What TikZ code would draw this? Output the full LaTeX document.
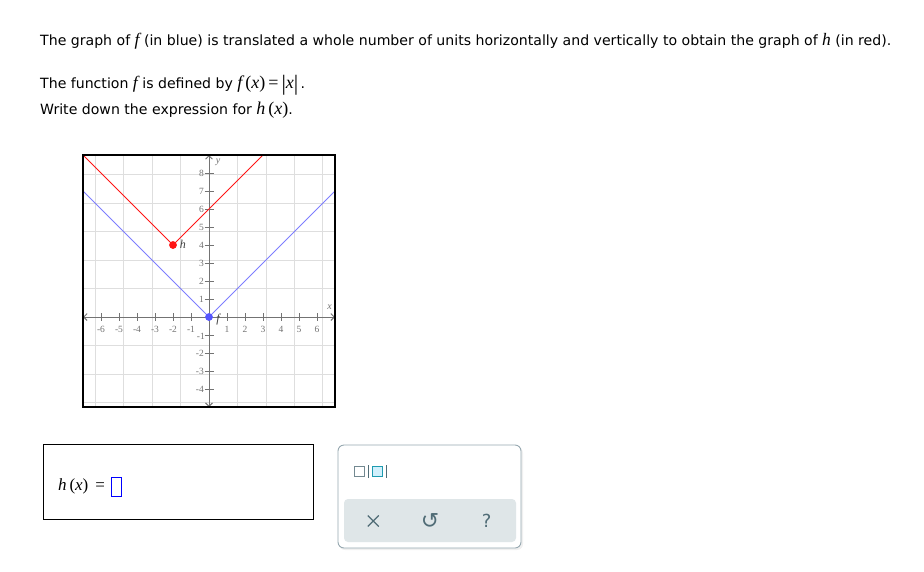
\documentclass[tikz,border=0pt]{standalone}
\usepackage{fontspec}
\setmainfont{DejaVu Sans}
\newfontfamily\varfont{Liberation Serif}
\usetikzlibrary{arrows.meta,positioning,calc}
\definecolor{hred}{RGB}{255,20,20}
\definecolor{fblue}{RGB}{125,125,255}
\definecolor{fdot}{RGB}{85,85,255}
\definecolor{gridgray}{RGB}{222,222,222}
\definecolor{axisgray}{RGB}{115,115,115}
\definecolor{panelline}{RGB}{150,168,176}
\definecolor{panelfill}{RGB}{223,230,232}
\definecolor{icongray}{RGB}{80,108,118}
\definecolor{iconteal}{RGB}{30,155,176}
\newcommand{\vi}[1]{{\varfont\fontsize{17.5}{17}\selectfont\itshape #1}}

\begin{document}
\begin{tikzpicture}[x=1pt,y=-1pt,
    prompt/.style={anchor=base west,inner sep=0pt,font=\fontsize{14.1}{17}\selectfont},
    gridline/.style={draw=gridgray,line width=0.8pt},
    axisline/.style={draw=axisgray,line width=0.9pt},
    ticklabel/.style={text=axisgray,inner sep=0pt,font=\varfont\fontsize{9.5}{9.5}\selectfont},
    vertex/.style={circle,inner sep=0pt,minimum size=7.5pt},
    curvelabel/.style={inner sep=0pt,text=black!75,font=\varfont\itshape\fontsize{12}{12}\selectfont},
    answerbox/.style={draw=black,line width=0.9pt},
    icon/.style={text=icongray,inner sep=0pt,font=\fontsize{18}{18}\selectfont}]
\useasboundingbox (0,0) rectangle (924,571);

% question text
\node[prompt] (line1) at (40,45) {The graph of \vi{f} (in blue) is translated a whole number of units horizontally and vertically to obtain the graph of \vi{h} (in red).};
\node[prompt] (line2) at (40,88) {The function \vi{f} is defined by {\varfont\fontsize{18}{18}\selectfont\itshape f\,\upshape(\itshape x\upshape)\,=\,\raisebox{-2.5pt}{\fontsize{22}{22}\selectfont|}\itshape x\upshape\raisebox{-2.5pt}{\fontsize{22}{22}\selectfont|}}\,.};
\node[prompt] (line3) at (40,114) {Write down the expression for {\varfont\fontsize{18}{18}\selectfont\itshape h\upshape\,(\itshape x\upshape)}.};

% graph: origin at (209,317), 18px per unit
\begin{scope}[shift={(209,317)},x=18pt,y=18pt]
  \draw[gridline] (-7,-5) grid (7,9);
  % axes
  \draw[axisline,{Straight Barb[length=3.5pt,width=7pt]}-{Straight Barb[length=3.5pt,width=7pt]}] (-7,0) -- (7,0);
  \draw[axisline,{Straight Barb[length=3.5pt,width=7pt]}-{Straight Barb[length=3.5pt,width=7pt]}] (0,-5) -- (0,9);
  \foreach \i in {-6,...,-1,1,2,...,6}{
    \draw[axisline] (\i,-0.22) -- (\i,0.22);
    \node[ticklabel] at (\i,-0.68) {\i};
  }
  \foreach \i in {-4,...,-2,1,2,...,8}{
    \draw[axisline] (-0.25,\i) -- (0.25,\i);
    \node[ticklabel,anchor=east] at (-0.28,\i) {\i};
  }
  \draw[axisline] (-0.25,-1) -- (0.25,-1);
  \node[ticklabel,anchor=east] (ym1) at (-0.22,-1.08) {-1};
  \node[ticklabel,font=\varfont\itshape\fontsize{10}{10}\selectfont] (xlab) at (6.7,0.55) {x};
  \node[ticklabel,font=\varfont\itshape\fontsize{10}{10}\selectfont] (ylab) at (0.5,8.6) {y};
  % f in blue
  \coordinate (fl) at (-7,7);
  \coordinate (fr) at (7,7);
  \node[vertex,fill=fdot] (fv) at (0,0) {};
  \draw[fblue,line width=1pt] (fl) -- (fv.center) -- (fr);
  \node[vertex,fill=fdot] at (fv) {};
  \node[curvelabel] (flab) at (0.5,-0.12) {f};
  % h in red
  \coordinate (hl) at (-7,9);
  \coordinate (hr) at (3,9);
  \node[vertex,fill=hred] (hv) at (-2,4) {};
  \draw[hred,line width=1pt] (hl) -- (hv.center) -- (hr);
  \node[vertex,fill=hred] at (hv) {};
  \node[curvelabel] (hlab) at (-1.45,4.05) {h};
  \draw[black,line width=1.3pt] (-7,-5) rectangle (7,9);
\end{scope}

% answer field
\draw[answerbox] (43,444) rectangle (313,519);
\node[anchor=base west,inner sep=0pt,font=\varfont\fontsize{17}{17}\selectfont] (hx) at (58,490) {\itshape h\upshape\,(\itshape x\upshape)\, =};
\node[draw=blue,line width=0.8pt,minimum width=10pt,minimum height=19pt,inner sep=0pt,right=6pt of hx.east,yshift=-1pt] (slot) {};

% keypad panel
\fill[gray!12,rounded corners=6pt] (339,447) rectangle (523,550);
\draw[panelline,fill=white,line width=0.9pt,rounded corners=6pt] (338,445) rectangle (521,548);
\fill[panelfill,rounded corners=4pt] (344,499) rectangle (516,542);
\node[draw=icongray!80,fill=white,line width=1pt,minimum size=10pt,inner sep=0pt] (box1) at (359.3,471.5) {};
\draw[icongray,line width=1pt] (368.3,465) -- (368.3,478);
\node[draw=iconteal,fill=cyan!18,line width=1pt,minimum size=10pt,inner sep=0pt] (box2) at (377.3,471.5) {};
\draw[icongray,line width=1pt] (386.7,465) -- (386.7,478);
\coordinate (xc) at (373.3,521);
\draw[icongray,line width=1.2pt] ($(xc)+(-5.5,-5.5)$) -- ($(xc)+(5.5,5.5)$) ($(xc)+(-5.5,5.5)$) -- ($(xc)+(5.5,-5.5)$);
\node[icon,font=\fontsize{22}{22}\selectfont] (undo) at (430,521) {↺};
\node[icon] (help) at (486.7,521) {?};
\end{tikzpicture}
\end{document}
